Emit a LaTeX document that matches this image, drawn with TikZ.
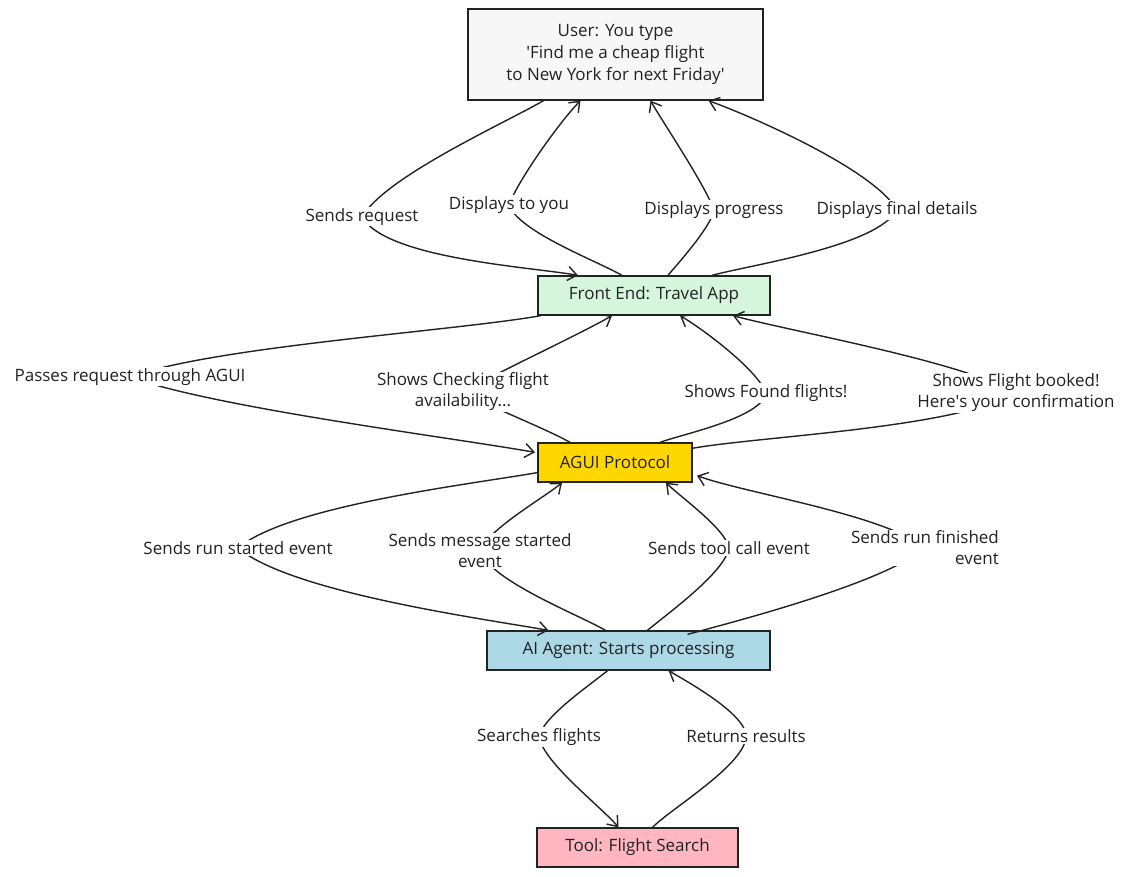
\documentclass[tikz,border=0pt]{standalone}
\usepackage{fontspec}
\setmainfont{Open Sans}
\usetikzlibrary{arrows.meta}
\definecolor{cuser}{HTML}{F7F7F7}
\definecolor{cfront}{HTML}{D5F5DD}
\definecolor{cagui}{HTML}{FFD700}
\definecolor{cagent}{HTML}{ADD8E6}
\definecolor{ctool}{HTML}{FFB6C1}
\definecolor{ink}{HTML}{222222}
\begin{document}
\begin{tikzpicture}[x=1pt,y=1pt,
  box/.style={draw=ink,line width=1.3pt,align=center,font=\fontsize{17}{22}\selectfont,text=ink},
  lab/.style={fill=white,inner sep=1pt,align=center,font=\fontsize{17}{21}\selectfont,text=ink},
  edge/.style={draw=ink,line width=1.4pt,looseness=0.55,-{Straight Barb[length=9pt,width=14pt]}}]
\useasboundingbox (0,0) rectangle (1125,-877);
\node[box,fill=cuser,minimum width=295,minimum height=91] (user) at (615.5,-54.5) {User: You type\\\textquotesingle Find me a cheap flight\\to New York for next Friday\textquotesingle};
\node[box,fill=cfront,minimum width=232,minimum height=39] (front) at (654,-295.5) {Front End: Travel App};
\node[box,fill=cagui,minimum width=154,minimum height=39] (agui) at (615,-462.5) {AGUI Protocol};
\node[box,fill=cagent,minimum width=283,minimum height=39] (agent) at (628.5,-650.5) {AI Agent: Starts processing};
\node[box,fill=ctool,minimum width=201,minimum height=39] (tool) at (637.5,-847.5) {Tool: Flight Search};
% label positions
\coordinate (l1) at (362,-217);
\coordinate (l2) at (509,-205);
\coordinate (l3) at (714,-210);
\coordinate (l4) at (897,-210);
\coordinate (l5) at (130,-377);
\coordinate (l6) at (463,-392);
\coordinate (l7) at (766,-393);
\coordinate (l8) at (1016,-393);
\coordinate (l9) at (238,-548);
\coordinate (l10) at (480,-551);
\coordinate (l11) at (729,-548);
\coordinate (l12) at (925,-548);
\coordinate (l13) at (539,-737);
\coordinate (l14) at (746,-736);
% edges
\draw[edge] ([xshift=-72pt]user.south) to[out=210,in=60] (l1) to[out=-60,in=170] ([xshift=-76pt]front.north);
\draw[edge] ([xshift=-32pt]front.north) to[out=150,in=-70] (l2) to[out=70,in=225] ([xshift=-35pt]user.south);
\draw[edge] ([xshift=14pt]front.north) to[out=50,in=-100] (l3) to[out=110,in=300] ([xshift=35pt]user.south);
\draw[edge] ([xshift=58pt]front.north) to[out=15,in=-120] (l4) to[out=120,in=340] ([xshift=93pt]user.south);
\draw[edge] ([xshift=-113pt]front.south) to[out=190,in=20] (l5) to[out=-20,in=170] ([xshift=-80pt,yshift=-10pt]agui.north);
\draw[edge] ([xshift=-45pt]agui.north) to[out=150,in=-30] (l6) to[out=30,in=210] ([xshift=-42pt]front.south);
\draw[edge] ([xshift=45pt]agui.north) to[out=20,in=-100] (l7) to[out=110,in=330] ([xshift=26pt]front.south);
\draw[edge] ([xshift=77pt,yshift=-6pt]agui.north) to[out=10,in=-150] (l8) to[out=150,in=345] ([xshift=79pt]front.south);
\draw[edge] ([xshift=-78pt,yshift=10pt]agui.south) to[out=190,in=40] (l9) to[out=-40,in=170] ([xshift=-80pt]agent.north);
\draw[edge] ([xshift=-23pt]agent.north) to[out=150,in=-70] (l10) to[out=70,in=220] ([xshift=-53pt]agui.south);
\draw[edge] ([xshift=19pt]agent.north) to[out=40,in=-100] (l11) to[out=100,in=315] ([xshift=51pt]agui.south);
\draw[edge] ([xshift=59pt,yshift=-4pt]agent.north) to[out=15,in=-140] (l12) to[out=140,in=340] ([xshift=82pt,yshift=7pt]agui.south);
\draw[edge] ([xshift=-21pt]agent.south) to[out=220,in=80] (l13) to[out=-80,in=130] ([xshift=-19pt]tool.north);
\draw[edge] ([xshift=15pt]tool.north) to[out=45,in=-90] (l14) to[out=90,in=330] ([xshift=40pt]agent.south);
% labels
\node[lab] (t1) at (l1) {Sends request};
\node[lab] (t2) at (l2) {Displays to you};
\node[lab] (t3) at (l3) {Displays progress};
\node[lab] (t4) at (l4) {Displays final details};
\node[lab] (t5) at (l5) {Passes request through AGUI};
\node[lab] (t6) at (l6) {Shows Checking flight\\availability...};
\node[lab] (t7) at (l7) {Shows Found flights!};
\node[lab] (t8) at (l8) {Shows Flight booked!\\Here\textquotesingle s your confirmation};
\node[lab] (t9) at (l9) {Sends run started event};
\node[lab] (t10) at (l10) {Sends message started\\event};
\node[lab] (t11) at (l11) {Sends tool call event};
\node[lab,align=right] (t12) at (l12) {Sends run finished\\event};
\node[lab] (t13) at (l13) {Searches flights};
\node[lab] (t14) at (l14) {Returns results};
\end{tikzpicture}
\end{document}
